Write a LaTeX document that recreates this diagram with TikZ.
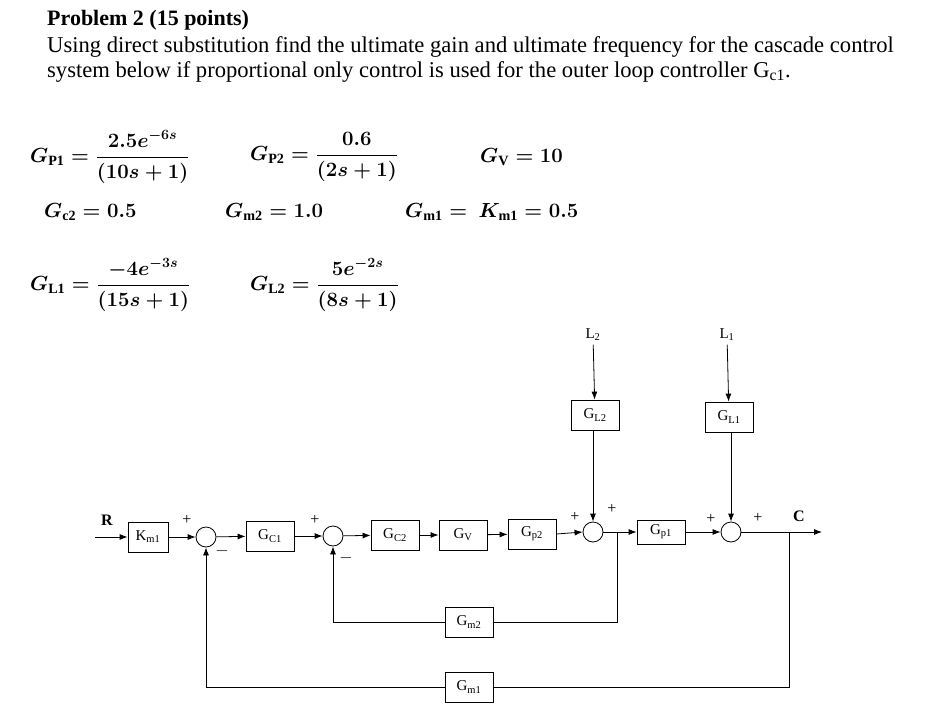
\documentclass[tikz,border=0pt]{standalone}
\usepackage{amsmath}
\usepackage{fontspec}
\setmainfont{Liberation Serif}
\usetikzlibrary{arrows.meta}
\newcommand{\myeq}[1]{\scalebox{1.18}{\fontsize{17.28}{21}\selectfont\boldmath #1}}
\begin{document}
\begin{tikzpicture}[x=1pt,y=-1pt,
  blk/.style={draw,line width=0.8pt,minimum width=48pt,minimum height=30pt,inner sep=0pt,font=\fontsize{15}{17}\selectfont},
  sum/.style={draw,circle,line width=0.8pt,minimum size=20pt,inner sep=0pt},
  ln/.style={line width=0.8pt},
  ar/.style={ln,-{Latex[length=8pt,width=6pt]}},
  eq/.style={anchor=west,inner sep=0pt},
  sg/.style={font=\fontsize{16}{18}\selectfont,inner sep=1pt}]
\useasboundingbox (0,0) rectangle (938,726);
\node[anchor=west,inner sep=0pt,font=\fontsize{22}{26}\selectfont\bfseries] (t1) at (47,20) {Problem 2 (15 points)};
\node[anchor=west,inner sep=0pt,font=\fontsize{22.6}{26}\selectfont] (t2) at (47,47) {Using direct substitution find the ultimate gain and ultimate frequency for the cascade control};
\node[anchor=west,inner sep=0pt,font=\fontsize{22.6}{26}\selectfont] (t3) at (47,72) {system below if proportional only control is used for the outer loop controller G\textsubscript{c1}.};
% equations
\node[eq] (e1) at (30,157) {\myeq{$G_{\mathrm{P1}}=\dfrac{2.5e^{-6s}}{(10s+1)}$}};
\node[eq] (e2) at (250,157) {\myeq{$G_{\mathrm{P2}}=\dfrac{0.6}{(2s+1)}$}};
\node[eq] (e3) at (480,157) {\myeq{$G_{\mathrm{V}}=10$}};
\node[eq] (e4) at (44,212) {\myeq{$G_{\mathrm{c2}}=0.5$}};
\node[eq] (e5) at (225,212) {\myeq{$G_{\mathrm{m2}}=1.0$}};
\node[eq] (e6) at (405,212) {\myeq{$G_{\mathrm{m1}}=\ K_{\mathrm{m1}}=0.5$}};
\node[eq] (e7) at (30,285) {\myeq{$G_{\mathrm{L1}}=\dfrac{-4e^{-3s}}{(15s+1)}$}};
\node[eq] (e8) at (250,285) {\myeq{$G_{\mathrm{L2}}=\dfrac{5e^{-2s}}{(8s+1)}$}};
% blocks
\node[blk,minimum width=40pt] (km) at (148,537) {K\textsubscript{m1}};
\node[sum] (s1) at (206,537) {};
\node[blk] (gc1) at (270,536) {G\textsubscript{C1}};
\node[sum] (s2) at (333,536) {};
\node[blk] (gc2) at (395,535) {G\textsubscript{C2}};
\node[blk] (gv) at (463,535) {G\textsubscript{V}};
\node[blk] (gp2) at (532,534) {G\textsubscript{p2}};
\node[sum] (s3) at (593,532) {};
\node[blk,minimum height=24pt] (gp1) at (661,532) {G\textsubscript{p1}};
\node[sum] (s4) at (731,532) {};
\node[blk] (gl2) at (595,415) {G\textsubscript{L2}};
\node[blk] (gl1) at (729,417) {G\textsubscript{L1}};
\node[blk] (gm2) at (469,622) {G\textsubscript{m2}};
\node[blk] (gm1) at (469,687) {G\textsubscript{m1}};
\node[font=\fontsize{16}{18}\selectfont\bfseries] (R) at (107,520) {R};
\node[font=\fontsize{15}{17}\selectfont] (L2) at (593,335) {L\textsubscript{2}};
\node[font=\fontsize{15}{17}\selectfont] (L1) at (727,335) {L\textsubscript{1}};
\node[font=\fontsize{16}{18}\selectfont\bfseries] (C) at (799,516) {C};
\coordinate (rin) at (95,537);
\coordinate (out) at (822,532);
\coordinate (b2) at (617,532);
\coordinate (b1) at (789,532);
% connectors
\draw[ar] (rin) -- (km);
\draw[ar] (km) -- (s1);
\draw[ar] (s1) -- (gc1);
\draw[ar] (gc1) -- (s2);
\draw[ar] (s2) -- (gc2);
\draw[ar] (gc2) -- (gv);
\draw[ar] (gv) -- (gp2);
\draw[ar] (gp2.east) -- (s3.west);
\draw[ar] (s3) -- (gp1);
\draw[ar] (gp1) -- (s4);
\draw[ar] (s4) -- (out);
\draw[ar] (L2) -- (gl2);
\draw[ar] (L1) -- (gl1);
\draw[ar] (gl2.south -| s3) -- (s3);
\draw[ar] (gl1.south -| s4) -- (s4);
\draw[ln] (b2) |- (gm2);
\draw[ar] (gm2) -| (s2);
\draw[ln] (b1) |- (gm1);
\draw[ar] (gm1) -| (s1);
% signs
\node[sg] (p1) at (187,520) {+};
\node[sg] (m1) at (222,551) {$-$};
\node[sg] (p2) at (315,520) {+};
\node[sg] (m2) at (346,558) {$-$};
\node[sg] (p3) at (575,517) {+};
\node[sg] (p4) at (612,509) {+};
\node[sg] (p5) at (711,519) {+};
\node[sg] (p6) at (758,518) {+};
\end{tikzpicture}
\end{document}
